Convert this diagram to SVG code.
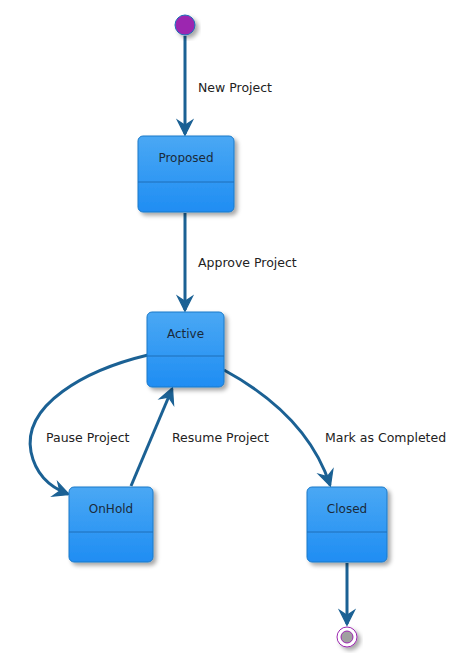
<svg xmlns="http://www.w3.org/2000/svg" width="468" height="665" viewBox="0 0 468 665">
<style>
.lbl{font-family:"DejaVu Sans",sans-serif;font-size:12.5px;fill:#222222}
.name{font-family:"DejaVu Sans",sans-serif;font-size:12px;fill:#1a2a3a;text-anchor:middle}
.box{fill:url(#g);stroke:#1c79c8;stroke-width:1}
.div{stroke:#1c6fb8;stroke-width:1}
.edge{fill:none;stroke:#1b6194;stroke-width:3;marker-end:url(#arr)}
</style>
<defs>
<linearGradient id="g" x1="0" y1="0" x2="0" y2="1">
<stop offset="0" stop-color="#4aa8f4"/>
<stop offset="1" stop-color="#1f8df3"/>
</linearGradient>
<filter id="sh" x="-20%" y="-20%" width="150%" height="150%">
<feDropShadow dx="3" dy="3" stdDeviation="2" flood-color="#000" flood-opacity="0.35"/>
</filter>
<marker id="arr" markerUnits="userSpaceOnUse" orient="auto" refX="0" refY="0" markerWidth="20" markerHeight="20" viewBox="-14 -8 16 16" overflow="visible">
<path d="M1,0 L-11,-6 L-7,0 L-11,6 Z" fill="#1b6194" stroke="#1b6194" stroke-width="1"/>
</marker>
</defs>
<g id="connectors">
<path class="edge" d="M185,36 L185,134"/>
<path class="edge" d="M185,213 L185,310"/>
<path class="edge" d="M148,355 C85,370 22,405 31,452 C36,476 52,488 68,494"/>
<path class="edge" d="M131,486 L172,389"/>
<path class="edge" d="M224,370 C270,395 312,430 330,485"/>
<path class="edge" d="M347,563 L347,624"/>
<text class="lbl" x="198" y="92">New Project</text>
<text class="lbl" x="198" y="267">Approve Project</text>
<text class="lbl" x="46" y="442">Pause Project</text>
<text class="lbl" x="172" y="442">Resume Project</text>
<text class="lbl" x="325" y="442">Mark as Completed</text>
</g>
<g id="start">
<circle cx="185" cy="25" r="10" fill="#9c27b0" stroke="#1c6fb8" stroke-width="1" filter="url(#sh)"/>
</g>
<g id="Proposed">
<rect class="box" x="138" y="136" width="96" height="76" rx="5" filter="url(#sh)"/>
<line class="div" x1="138" y1="182" x2="234" y2="182"/>
<text class="name" x="186" y="162">Proposed</text>
</g>
<g id="Active">
<rect class="box" x="147" y="312" width="77" height="75" rx="5" filter="url(#sh)"/>
<line class="div" x1="147" y1="356" x2="224" y2="356"/>
<text class="name" x="185.5" y="338">Active</text>
</g>
<g id="OnHold">
<rect class="box" x="69" y="487" width="84" height="75" rx="5" filter="url(#sh)"/>
<line class="div" x1="69" y1="532" x2="153" y2="532"/>
<text class="name" x="111" y="513">OnHold</text>
</g>
<g id="Closed">
<rect class="box" x="307" y="487" width="80" height="75" rx="5" filter="url(#sh)"/>
<line class="div" x1="307" y1="532" x2="387" y2="532"/>
<text class="name" x="347" y="513">Closed</text>
</g>
<g id="end">
<circle cx="347" cy="637" r="10" fill="#ffffff" stroke="#9c27b0" stroke-width="1" filter="url(#sh)"/>
<circle cx="347" cy="637" r="6" fill="#a0a0a0" stroke="#9c27b0" stroke-width="1"/>
</g>
</svg>
